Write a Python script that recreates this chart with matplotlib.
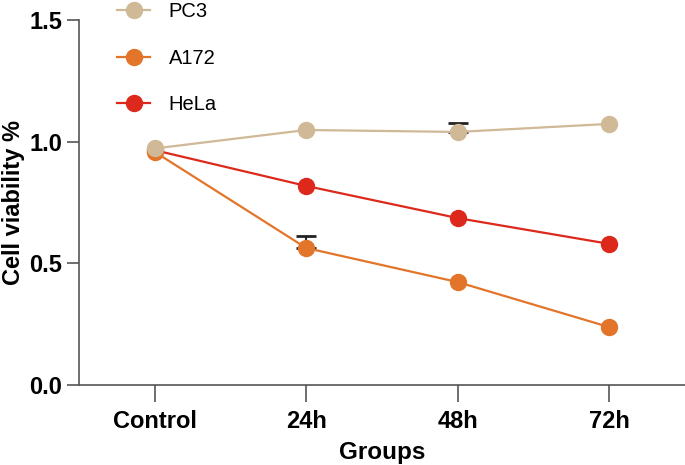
import matplotlib.pyplot as plt
import numpy as np

plt.rcParams['font.family'] = ['Liberation Sans', 'DejaVu Sans']

groups = ["Control", "24h", "48h", "72h"]
pc3 = [0.972, 1.048, 1.040, 1.073]
a172 = [0.958, 0.563, 0.423, 0.238]
hela = [0.965, 0.818, 0.686, 0.580]
pc3_err = [0.0, 0.0, 0.037, 0.0]
a172_err = [0.0, 0.050, 0.0, 0.0]
hela_err = [0.0, 0.0, 0.0, 0.0]

colors = {"PC3": "#CFB997", "A172": "#E3752A", "HeLa": "#DC291C"}

fig = plt.figure(figsize=(6.85, 4.65), dpi=100)
ax = fig.add_axes([0.1153, 0.172, 0.8847, 0.785])

x = np.arange(len(groups))
series = [("PC3", pc3, pc3_err), ("A172", a172, a172_err), ("HeLa", hela, hela_err)]
for i, (name, vals, err) in enumerate(series):
    err = np.array(err)
    m = err > 0
    if m.any():
        ax.errorbar(x[m], np.array(vals)[m], yerr=[np.zeros(m.sum()), err[m]], fmt='none',
                    ecolor='#222222', elinewidth=1.5, capsize=7, capthick=2, zorder=1)
    ax.plot(x, vals, '-o', color=colors[name], lw=1.6, ms=11.5, label=name, zorder=3 + (2 - i))

ax.set_xlim(-0.5, 3.5)
ax.set_ylim(0, 1.5)
ax.tick_params(axis='y', length=9, width=1.2, color='#555555', pad=3)
ax.tick_params(axis='x', length=12, width=1.2, color='#555555', pad=6)
ax.set_yticks([0, 0.5, 1.0, 1.5])
ax.set_yticklabels(["0.0", "0.5", "1.0", "1.5"], fontweight='bold', fontsize=17)
ax.set_xticks(x)
ax.set_xticklabels(groups, fontweight='bold', fontsize=17)

ax.spines['top'].set_visible(False)
ax.spines['right'].set_visible(False)
for s in ['left', 'bottom']:
    ax.spines[s].set_color('#555555')
    ax.spines[s].set_linewidth(1.2)

ax.set_xlabel("Groups", fontsize=17.5, fontweight='bold', labelpad=6)
ax.set_ylabel("Cell viability %", fontsize=17, fontweight='bold', labelpad=3)

fig.legend(loc='upper left', bbox_to_anchor=(0.145, 1.035), frameon=False,
           fontsize=14.5, labelspacing=1.38, handlelength=1.6, handletextpad=0.95)

fig.savefig("out.png", dpi=100)
